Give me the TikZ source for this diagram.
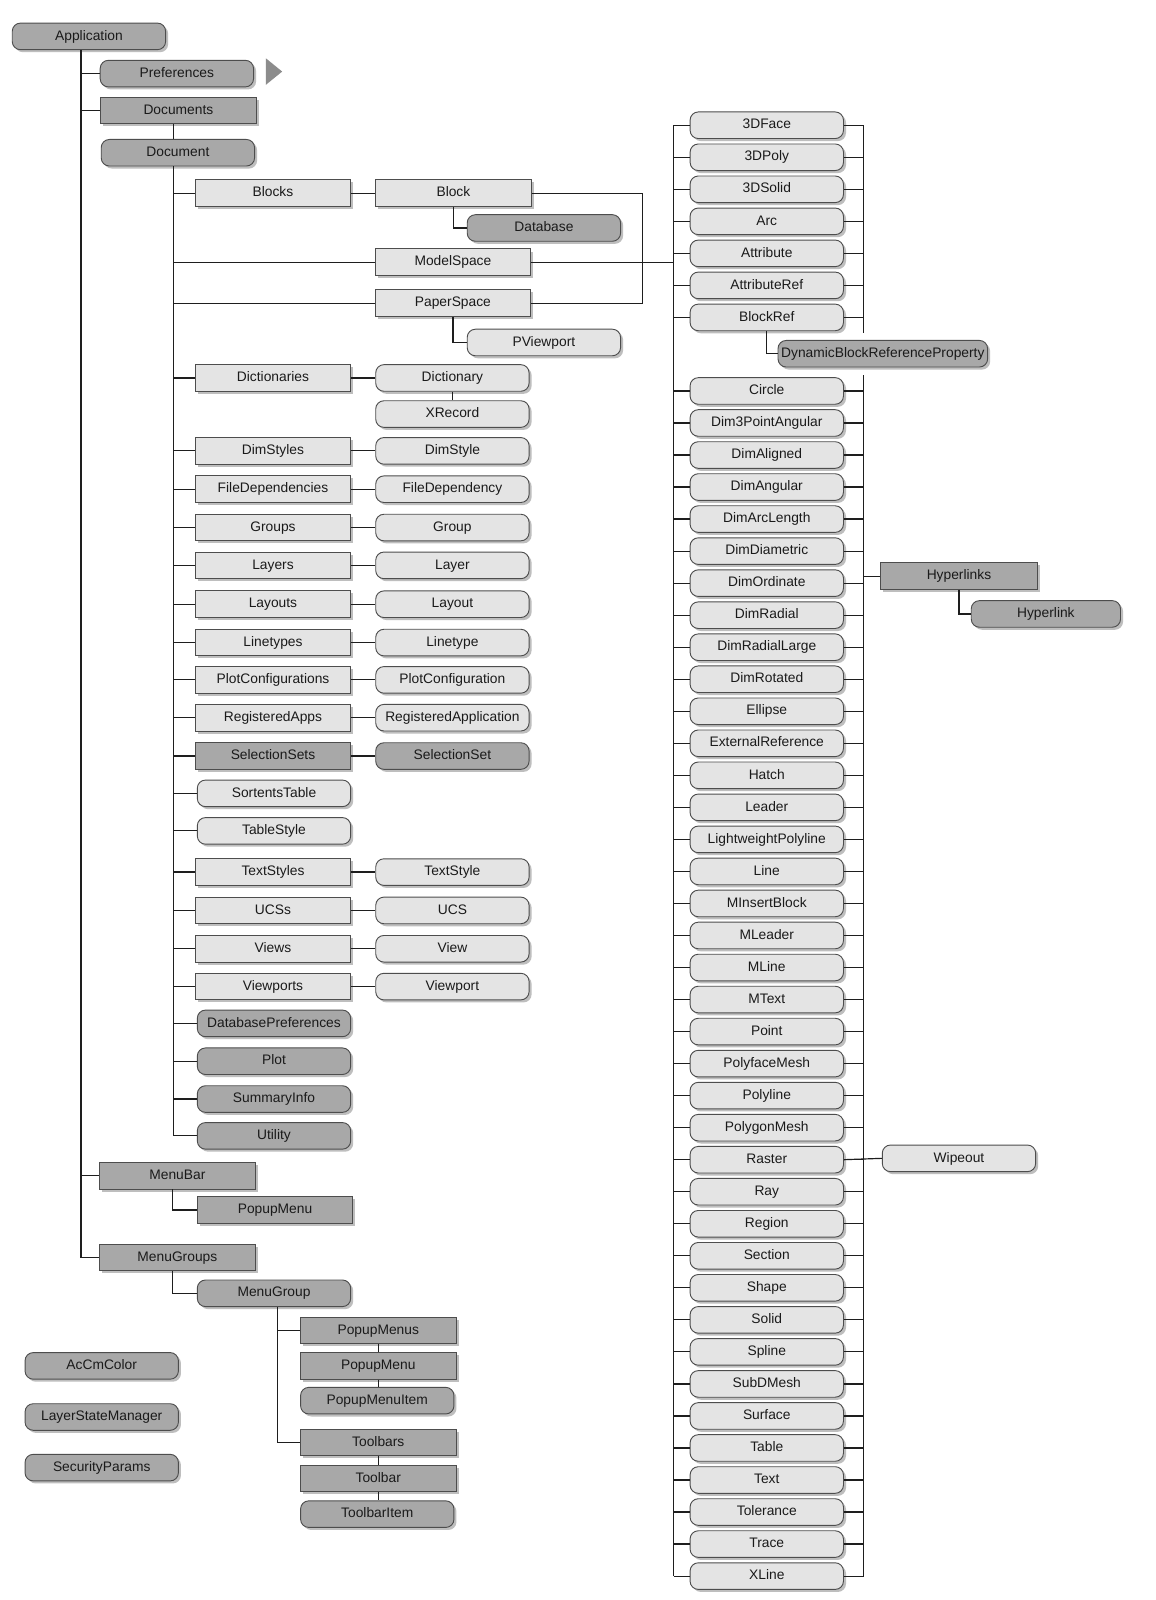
\documentclass[tikz,border=0pt]{standalone}
\usepackage{fontspec}
\setmainfont{Liberation Sans}
\usetikzlibrary{shadows}
\definecolor{lightfill}{HTML}{E4E4E4}
\definecolor{darkfill}{HTML}{A8A8A8}
\definecolor{bordercol}{HTML}{4D4D4D}
\definecolor{shadowcol}{HTML}{BEBEBE}
\definecolor{linecol}{HTML}{1E1E1E}
\definecolor{txtcol}{HTML}{1A1A1A}
\definecolor{tricol}{HTML}{8C8C8C}
\begin{document}
\begin{tikzpicture}[x=1pt,y=-1pt,
 boxbase/.style={draw=bordercol, line width=0.9pt, text=txtcol, font=\fontsize{13.5}{15}\selectfont, inner sep=0pt, minimum height=26pt, text height=9.8pt, text depth=2.6pt, drop shadow={shadow xshift=2.5pt, shadow yshift=-2.5pt, fill=shadowcol, opacity=1}},
 lrect/.style={boxbase, fill=lightfill, minimum width=152pt},
 drect/.style={boxbase, fill=darkfill, minimum width=152pt},
 lround/.style={boxbase, rounded corners=8pt, fill=lightfill, minimum width=150pt},
 dround/.style={boxbase, rounded corners=8pt, fill=darkfill, minimum width=150pt},
 conn/.style={draw=linecol, line width=1.15pt},
]
\fill[white] (0,0) rectangle (1130,1565);
\useasboundingbox (0,0) rectangle (1130,1565);

% trunk x positions
\coordinate (appx) at (79.3,0);
\coordinate (docx) at (170,0);
\coordinate (mx) at (169,0);
\coordinate (mgx) at (271.7,0);
\coordinate (bx) at (628.5,0);
\coordinate (entL) at (659,0);
\coordinate (entR) at (845,0);
\coordinate (rgapa) at (845,326);
\coordinate (rgapb) at (845,367);

% top
\node[dround] (app) at (87,35.6) {Application};
\node[dround] (pref) at (173,72) {Preferences};
\node[drect] (docs) at (174.5,108) {Documents};
\node[dround] (doc) at (174,149.4) {Document};
\fill[tricol] (260,57) -- (276,70) -- (260,83) -- cycle;

% blocks / spaces
\node[lrect] (blocks) at (267,189) {Blocks};
\node[lrect] (block) at (443.5,189) {Block};
\node[dround] (database) at (532,223) {Database};
\node[lrect] (model) at (443,256.5) {ModelSpace};
\node[lrect] (paper) at (443,296.5) {PaperSpace};
\node[lround] (pvp) at (532,335) {PViewport};

% collections with items
\foreach \y/\c/\i/\n in {369.7/Dictionaries/Dictionary/dict, 441/DimStyles/DimStyle/dims, 478.5/FileDependencies/FileDependency/fdep, 516/Groups/Group/grp, 553/Layers/Layer/lay, 591/Layouts/Layout/lout, 628.5/Linetypes/Linetype/ltyp, 665/PlotConfigurations/PlotConfiguration/pcfg, 702/RegisteredApps/RegisteredApplication/rapp, 853/TextStyles/TextStyle/tsty, 890.5/UCSs/UCS/ucs, 928/Views/View/view, 965/Viewports/Viewport/vport} {
  \node[lrect] (c\n) at (267,\y) {\c};
  \node[lround] (i\n) at (442.5,\y) {\i};
  \draw[conn] (c\n.east) -- (i\n.west);
  \draw[conn] (docx |- c\n.west) -- (c\n.west);
}
\node[lround] (xrec) at (442.5,405) {XRecord};
\draw[conn] (idict.south) -- (xrec.north);

\node[drect] (csel) at (267,739.5) {SelectionSets};
\node[dround] (isel) at (442.5,739.5) {SelectionSet};
\draw[conn] (csel.east) -- (isel.west);
\draw[conn] (docx |- csel.west) -- (csel.west);

% single children of Document
\foreach \y/\t/\n in {776/SortentsTable/sort, 812.7/TableStyle/tsty2} {
  \node[lround] (\n) at (268,\y) {\t};
  \draw[conn] (docx |- \n.west) -- (\n.west);
}
\foreach \y/\t/\n in {1001/DatabasePreferences/dbpref, 1038/Plot/plot, 1075/SummaryInfo/suminfo, 1111/Utility/util} {
  \node[dround] (\n) at (268,\y) {\t};
  \draw[conn] (docx |- \n.west) -- (\n.west);
}

% Document trunk and links
\draw[conn] (docs.south -| docx) -- (doc.north -| docx);
\draw[conn] (doc.south -| docx) -- (docx |- util.west);
\draw[conn] (docx |- blocks.west) -- (blocks.west);
\draw[conn] (docx |- model.west) -- (model.west);
\draw[conn] (docx |- paper.west) -- (paper.west);
\draw[conn] (blocks.east) -- (block.west);
\draw[conn] (block.south) |- (database.west);
\draw[conn] (paper.south) |- (pvp.west);
\draw[conn] (block.east) -- (bx |- block.east) -- (bx |- paper.east) -- (paper.east);
\draw[conn] (model.east) -- (entL |- model.east);

% menus
\node[drect] (mbar) at (173.5,1150) {MenuBar};
\node[drect] (pmenu) at (269,1183.6) {PopupMenu};
\node[drect] (mgs) at (173.5,1230) {MenuGroups};
\node[dround] (mg) at (268,1265) {MenuGroup};
\node[drect] (pms) at (370,1301.5) {PopupMenus};
\node[drect] (pm2) at (370,1336) {PopupMenu};
\node[dround] (pmi) at (369,1370) {PopupMenuItem};
\node[drect] (tbs) at (370,1411) {Toolbars};
\node[drect] (tb) at (370,1446) {Toolbar};
\node[dround] (tbi) at (369,1481) {ToolbarItem};

\draw[conn] (mx |- mbar.south) |- (pmenu.west);
\draw[conn] (mx |- mgs.south) |- (mg.west);
\draw[conn] (mgx |- mg.south) -- (mgx |- tbs.west);
\draw[conn] (mgx |- pms.west) -- (pms.west);
\draw[conn] (mgx |- tbs.west) -- (tbs.west);
\draw[conn] (pms.south) -- (pm2.north);
\draw[conn] (pm2.south) -- (pm2.south |- pmi.north);
\draw[conn] (tbs.south) -- (tb.north);
\draw[conn] (tb.south) -- (tb.south |- tbi.north);

% Application trunk
\draw[conn] (appx |- app.south) -- (appx |- mgs.west);
\foreach \n in {pref,docs,mbar,mgs} {
  \draw[conn] (appx |- \n.west) -- (\n.west);
}

% free objects
\node[dround] (accm) at (99.5,1336) {AcCmColor};
\node[dround] (lsm) at (99.5,1386) {LayerStateManager};
\node[dround] (secp) at (99.5,1435.5) {SecurityParams};

% entities
\foreach \t [count=\k from 0] in {3DFace,3DPoly,3DSolid,Arc,Attribute,AttributeRef,BlockRef} {
  \node[lround] (ea\k) at (750,{122.5+31.33*\k}) {\t};
  \draw[conn] (entL |- ea\k.west) -- (ea\k.west);
  \draw[conn] (ea\k.east) -- (entR |- ea\k.east);
}
\foreach \t [count=\k from 0] in {Circle,Dim3PointAngular,DimAligned,DimAngular,DimArcLength,DimDiametric,DimOrdinate,DimRadial,DimRadialLarge,DimRotated,Ellipse,ExternalReference,Hatch,Leader,LightweightPolyline,Line,MInsertBlock,MLeader,MLine,MText,Point,PolyfaceMesh,Polyline,PolygonMesh,Raster,Ray,Region,Section,Shape,Solid,Spline,SubDMesh,Surface,Table,Text,Tolerance,Trace,XLine} {
  \node[lround] (eb\k) at (750,{382.4+31.33*\k}) {\t};
  \draw[conn] (entL |- eb\k.west) -- (eb\k.west);
  \draw[conn] (eb\k.east) -- (entR |- eb\k.east);
}
\draw[conn] (entL |- ea0.west) -- (entL |- eb37.west);
\draw[conn] (entR |- ea0.east) -- (rgapa);
\draw[conn] (rgapb) -- (entR |- eb37.east);

\node[dround, minimum width=205pt] (dyn) at (863.5,346) {DynamicBlockReferenceProperty};
\draw[conn] (ea6.south) |- (dyn.west);

\node[drect, minimum width=153pt] (hyps) at (938,563.5) {Hyperlinks};
\node[dround, minimum width=146pt] (hyp) at (1023,600.5) {Hyperlink};
\draw[conn] (entR |- hyps.west) -- (hyps.west);
\draw[conn] (hyps.south) |- (hyp.west);

\node[lround] (wipe) at (938,1133) {Wipeout};
\draw[conn] (eb24.east) -- (wipe.west);
\end{tikzpicture}
\end{document}
